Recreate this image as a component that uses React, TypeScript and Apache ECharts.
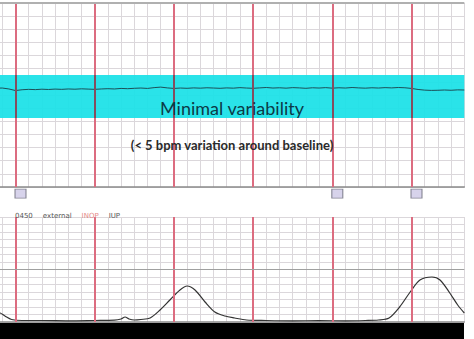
import React, { useEffect, useRef } from "react";
import * as echarts from "echarts";

// Time axis in seconds; red minute lines every 60 s
const redLineTimes = [0, 60, 120, 180, 240, 300];
const markerTimes = [0, 240, 300];

// Fetal heart rate (bpm), sampled every 5 s starting at -20 s
const fhrStart = -20;
const fhrStep = 5;
const fhrValues = [
  125.4, 125.2, 125.3, 124.6, 123.4, 124.0, 124.3, 124.1, 124.4, 124.2,
  124.5, 124.3, 124.6, 124.4, 124.7, 124.5, 124.3, 124.6, 124.8, 124.6,
  125.0, 124.8, 125.1, 125.3, 125.0, 125.6, 126.0, 125.4, 125.0, 125.3,
  125.1, 125.4, 125.2, 125.5, 125.3, 125.1, 125.4, 125.2, 125.6, 125.3,
  125.1, 125.4, 125.7, 125.3, 125.5, 125.2, 125.6, 125.4, 125.1, 125.5,
  125.3, 125.6, 125.2, 125.5, 125.3, 125.7, 125.4, 125.2, 125.5, 125.3,
  125.6, 125.4, 125.7, 125.5, 125.0, 124.2, 123.7, 123.5, 123.6, 123.8,
  123.6, 123.9, 123.8,
];

// Uterine pressure (IUP)
const tocoTimes = [
  -20, -11.7, -8, -3, 5, 20, 40, 60, 75, 80, 83, 86, 90, 95, 102, 109.5, 117,
  124.6, 130, 136, 143.6, 151, 158.7, 166, 175, 190, 210, 230, 250, 265, 275,
  283, 291, 299, 306.4, 315.5, 321.6, 329, 335, 340,
];
const tocoValues = [
  11, 9, 6, 2.5, 1.5, 1.5, 1.2, 1.5, 1.8, 3, 5, 3, 2, 2.5, 4, 12, 22, 32, 36,
  32, 20, 10, 6, 4, 2, 1.5, 1.2, 1.3, 1.2, 1.5, 2, 4, 15, 30, 42, 45, 42, 29,
  17, 9,
];

const bandRange = [102.5, 135.2];
const headerParts = ["0450", "external", "INOP", "IUP"];
const bandTitle = "Minimal variability";
const bandSubtitle = "(< 5 bpm variation around baseline)";

const SHIFT = 11; // chart canvas starts 11px left of the page edge

export default function App() {
  const ref = useRef<HTMLDivElement>(null);
  useEffect(() => {
    const chart = echarts.init(ref.current!, null, { renderer: "svg" });
    const xMin = -20;
    const xMax = 340;
    const gridL = 0.1;
    const gridR = 9.7;
    const gridColor = "#dbd7db";
    const red = "#dc6c80";

    const xBase = {
      type: "value",
      min: xMin,
      max: xMax,
      interval: 10,
      axisLabel: { show: false },
      axisTick: { show: false },
    };

    const redFull = redLineTimes.map((t) => ({ xAxis: t }));
    const redInBand = redLineTimes.map((t) => [
      { coord: [t, bandRange[0]], lineStyle: { color: "#6e4656", width: 1.6 } },
      { coord: [t, bandRange[1]] },
    ]);

    const option: any = {
      animation: false,
      backgroundColor: "#ffffff",
      title: {
        left: 15 + SHIFT,
        top: 207,
        padding: 0,
        text: `{a|${headerParts[0]}}  {a|${headerParts[1]}}  {r|${headerParts[2]}}  {a|${headerParts[3]}}`,
        textStyle: {
          fontWeight: "normal",
          rich: {
            a: { fontSize: 7, color: "#555", fontFamily: "DejaVu Sans", fontWeight: "normal" },
            r: { fontSize: 7, color: "#e58a8a", fontFamily: "DejaVu Sans", fontWeight: "normal" },
          },
        },
      },
      grid: [
        { left: gridL, right: gridR, top: 3, height: 184 },
        { left: gridL, right: gridR, top: 187, height: 30 },
        { left: gridL, right: gridR, top: 217, height: 105 },
      ],
      xAxis: [
        {
          ...xBase,
          gridIndex: 0,
          axisLine: { show: true, lineStyle: { color: "#8a8a8a", width: 1.5 } },
          splitLine: { show: true, lineStyle: { color: gridColor, width: 1 } },
        },
        { ...xBase, gridIndex: 1, show: false },
        {
          ...xBase,
          gridIndex: 2,
          position: "top",
          axisLine: { show: true, lineStyle: { color: "#8a8a8a", width: 1.5 } },
          splitLine: { show: true, lineStyle: { color: gridColor, width: 1 } },
        },
      ],
      yAxis: [
        {
          type: "value",
          gridIndex: 0,
          min: 50,
          max: 190,
          interval: 10,
          axisLine: { show: false },
          axisTick: { show: false },
          axisLabel: { show: false },
          splitLine: { show: true, lineStyle: { color: gridColor, width: 1 } },
        },
        { type: "value", gridIndex: 1, min: 0, max: 1, show: false },
        {
          type: "value",
          gridIndex: 2,
          min: 0,
          max: 105,
          interval: 7.5,
          axisLine: { show: false },
          axisTick: { show: false },
          axisLabel: { show: false },
          splitLine: { show: true, lineStyle: { color: gridColor, width: 1 } },
        },
      ],
      series: [
        {
          type: "line",
          xAxisIndex: 0,
          yAxisIndex: 0,
          data: fhrValues.map((v, i) => [fhrStart + i * fhrStep, v]),
          showSymbol: false,
          lineStyle: { color: "#1c4f58", width: 1 },
          z: 4,
          markArea: {
            silent: true,
            itemStyle: { color: "#1fe2e8", opacity: 0.95 },
            data: [[{ yAxis: bandRange[0] }, { yAxis: bandRange[1] }]],
          },
          markLine: {
            silent: true,
            symbol: "none",
            label: { show: false },
            lineStyle: { color: red, width: 2, type: "solid" },
            data: [
              ...redFull,
              ...redInBand,
              { yAxis: 190, lineStyle: { color: "#b0b0b0", width: 2 } },
            ],
          },
        },
        {
          type: "scatter",
          xAxisIndex: 1,
          yAxisIndex: 1,
          data: markerTimes.map((t) => [t, 0.78]),
          symbol: "rect",
          symbolSize: [11, 9],
          symbolOffset: [5, 0],
          itemStyle: { color: "#cdc8e6", borderColor: "#6d6d7a", borderWidth: 1 },
        },
        {
          type: "line",
          xAxisIndex: 2,
          yAxisIndex: 2,
          data: tocoTimes.map((t, i) => [t, tocoValues[i]]),
          smooth: 0.3,
          showSymbol: false,
          lineStyle: { color: "#333333", width: 1.2 },
          z: 4,
          markLine: {
            silent: true,
            symbol: "none",
            label: { show: false },
            lineStyle: { color: red, width: 2, type: "solid" },
            data: [
              ...redFull,
              { yAxis: 52.5, lineStyle: { color: "#a0a0a0", width: 1.2 } },
            ],
          },
        },
      ],
      graphic: [
        {
          type: "rect",
          z: 100,
          shape: { x: SHIFT, y: 323, width: 464, height: 16 },
          style: { fill: "#000000" },
        },
        {
          type: "text",
          z: 100,
          x: 232 + SHIFT,
          y: 108,
          style: {
            text: bandTitle,
            fontSize: 18,
            fontFamily: "Lato",
            fill: "#0c3a47",
            align: "center",
            verticalAlign: "middle",
          },
        },
        {
          type: "text",
          z: 100,
          x: 232 + SHIFT,
          y: 145,
          style: {
            text: bandSubtitle,
            fontSize: 13,
            fontWeight: "bold",
            fontFamily: "Lato",
            fill: "#2a2a2a",
            align: "center",
            verticalAlign: "middle",
          },
        },
      ],
    };
    chart.setOption(option);
    return () => chart.dispose();
  }, []);
  return (
    <div style={{ position: "fixed", left: 0, top: 0, width: 474, height: 339, overflow: "hidden", background: "#fff" }}>
      <div
        ref={ref}
        style={{ position: "absolute", left: -SHIFT, top: 0, width: 474 + SHIFT, height: 339 }}
      />
    </div>
  );
}
